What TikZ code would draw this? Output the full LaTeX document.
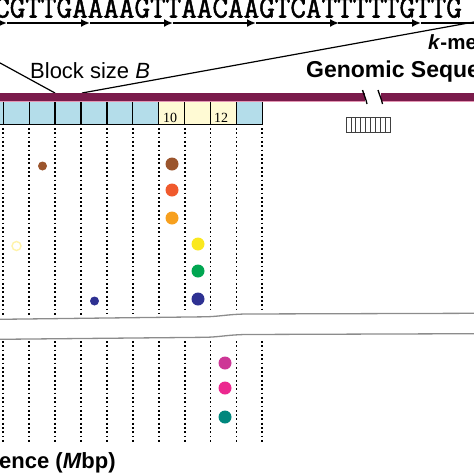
\documentclass[tikz,border=0pt]{standalone}
\usepackage{fontspec}
\setsansfont{Liberation Sans}
\newfontfamily\blocknumfont{Liberation Serif}
\newfontfamily\seqfont{Latin Modern Mono}[FakeBold=1.6]
\usepackage{tikz}
\usetikzlibrary{arrows.meta}
\usepackage{xcolor}
\definecolor{barMaroon}{RGB}{122, 27, 75}
\definecolor{barPink}{RGB}{228, 150, 180}
\definecolor{blockBlue}{RGB}{180, 221, 234}
\definecolor{blockYellow}{RGB}{255, 250, 212}
\definecolor{gapGray}{RGB}{140, 140, 140}
\definecolor{paleYellow}{RGB}{255, 243, 170}
\definecolor{dotBrown}{RGB}{155, 85, 45}
\definecolor{dotRed}{RGB}{240, 90, 45}
\definecolor{dotOrange}{RGB}{247, 160, 30}
\definecolor{dotYellow}{RGB}{250, 232, 30}
\definecolor{dotGreen}{RGB}{0, 166, 81}
\definecolor{dotBlue}{RGB}{46, 49, 146}
\definecolor{dotMagenta}{RGB}{205, 55, 150}
\definecolor{dotPink}{RGB}{236, 40, 143}
\definecolor{dotTeal}{RGB}{0, 135, 125}

\begin{document}
\begin{tikzpicture}[x=1pt, y=-1pt,
    kmerarrow/.style={line width=1.7pt, -{Latex[length=9pt,width=8pt]}},
    dotline/.style={line width=1.8pt, dash pattern=on 1.8pt off 2.5pt},
    gapline/.style={line width=1.3pt, color=gapGray},
    bigdot/.style={circle, inner sep=0, minimum size=13pt},
    smalldot/.style={circle, inner sep=0, minimum size=9pt},
    label/.style={inner sep=0, anchor=base west}]
        \useasboundingbox (0,0) rectangle (474,474);

        \node[label, xscale=0.946] (sequence) at (-6, 17.5) {\seqfont\fontsize{32}{32}\selectfont CGTTGAAAAGTTAACAAGTCATTTTTGTTG};
        \foreach \t in {7, 90, 173, 256, 339, 421, 504}
            \draw[kmerarrow] (\t-83, 23) -- (\t, 23);

        \node[label] (kmer) at (428, 49.5) {\sffamily\bfseries\fontsize{20.5}{20}\selectfont\textit{k}-me};
        \node[label] (blocksize) at (30, 78) {\sffamily\fontsize{22}{22}\selectfont Block size \textit{B}};
        \node[label] (genome) at (306, 77.5) {\sffamily\bfseries\fontsize{23}{23}\selectfont Genomic Seque};

        \coordinate (kmerleft) at (-20, 52);
        \coordinate (kmerright) at (474, 22);
        \coordinate (blockleft) at (55, 93);
        \coordinate (blockright) at (82, 93);
        \draw[line width=1.2pt] (kmerleft) -- (blockleft);
        \draw[line width=1.2pt] (kmerright) -- (blockright);

        \fill[barMaroon] (0, 92.5) rectangle (365, 101);
        \fill[barMaroon] (381, 92.5) rectangle (474, 101);
        \fill[barPink] (0, 101) rectangle (365, 102.3);
        \fill[barPink] (381, 101) rectangle (474, 102.3);
        \draw[line width=1.3pt] (362.5, 90) .. controls (364, 95) and (366, 99) .. (367, 104);
        \draw[line width=1.3pt] (378, 90) .. controls (379.5, 95) and (381.5, 99) .. (382.5, 104);

        \foreach \i in {-1, ..., 9}
            \fill[blockBlue] ({3.3+25.9*\i}, 102.3) rectangle ({29.2+25.9*\i}, 124.5);
        \foreach \i in {6, 7, 8}
            \fill[blockYellow] ({3.3+25.9*\i}, 102.3) rectangle ({29.2+25.9*\i}, 124.5);
        \foreach \i in {0, ..., 10}
            \draw[line width=1.3pt] ({3.3+25.9*\i}, 102.3) -- ({3.3+25.9*\i}, 125);
        \draw[line width=1.3pt] (0, 124.5) -- (262.3, 124.5);
        \node[label] (ten) at (163, 122) {\blocknumfont\fontsize{14}{14}\selectfont 10};
        \node[label] (twelve) at (214, 122) {\blocknumfont\fontsize{14}{14}\selectfont 12};

        \draw[line width=0.7pt, black!75] (346, 117) rectangle (390, 132);
        \foreach \k in {1, ..., 8}
            \draw[line width=0.7pt, black!75] ({346+4.89*\k}, 117) -- ({346+4.89*\k}, 132);

        \foreach \i in {0, ..., 10} {
            \draw[dotline] ({3.3+25.9*\i}, 128) -- ({3.3+25.9*\i}, {316.5-0.02*(3.3+25.9*\i)});
            \draw[dotline] ({3.3+25.9*\i}, 341) -- ({3.3+25.9*\i}, 443);
        }

        \draw[gapline] (0, 319.3) -- (205, 316.8) .. controls (220, 316.5) and (226, 314.5) .. (245, 314) -- (474, 313.3);
        \draw[gapline] (0, 339.3) -- (205, 337.3) .. controls (220, 337) and (226, 335) .. (245, 334.5) -- (474, 333.7);

        \node[smalldot, fill=dotBrown] (brownsmall) at (42.5, 166) {};
        \node[smalldot, draw=paleYellow, line width=1.4pt] (paleopen) at (16.5, 246) {};
        \node[smalldot, fill=dotBlue] (bluesmall) at (94.5, 301) {};

        \node[bigdot, fill=dotBrown] (brownbig) at (172, 164) {};
        \node[bigdot, fill=dotRed] (redbig) at (172, 190) {};
        \node[bigdot, fill=dotOrange] (orangebig) at (172, 218) {};
        \node[bigdot, fill=dotYellow] (yellowbig) at (198, 244) {};
        \node[bigdot, fill=dotGreen] (greenbig) at (198, 271) {};
        \node[bigdot, fill=dotBlue] (bluebig) at (198, 299) {};
        \node[bigdot, fill=dotMagenta] (magentabig) at (225, 363) {};
        \node[bigdot, fill=dotPink] (pinkbig) at (225, 388) {};
        \node[bigdot, fill=dotTeal] (tealbig) at (225, 417) {};

        \node[label] (axis) at (-1, 468) {\sffamily\bfseries\fontsize{22}{22}\selectfont ence (\textit{M}bp)};
    \end{tikzpicture}
\end{document}
